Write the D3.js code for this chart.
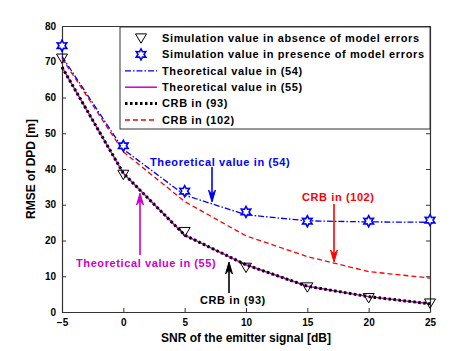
<!DOCTYPE html>
<html>
<head>
<meta charset="utf-8">
<script src="https://cdn.jsdelivr.net/npm/d3@7"></script>
<style>
  body { margin: 0; background: #fff; }
  text { font-family: "Liberation Sans", Arial, sans-serif; font-weight: bold; }
</style>
</head>
<body>
<div id="chart-area"></div>
<script>
// data
let snr = [-5, 0, 5, 10, 15, 20, 25];
let simAbsence = [71, 38.5, 22.5, 12.5, 7, 4, 2.5];
let simPresence = [74.5, 46.5, 33.8, 28, 25.4, 25.4, 25.7];
let theory54 = [71.5, 45.5, 32.7, 27.2, 25.5, 25.2, 25.1];
let theory55 = [68.5, 38.8, 21.5, 13.2, 7.2, 4.3, 2.3];
let crb93 = [68.5, 38.8, 21.5, 13.2, 7.2, 4.3, 2.3];
let crb102 = [71, 44.8, 30.9, 21.3, 15.5, 11.3, 9.5];
let xTicks = [-5, 0, 5, 10, 15, 20, 25];
let yTicks = [0, 10, 20, 30, 40, 50, 60, 70, 80];

let margin = {top: 26, right: 44, bottom: 39, left: 62};
let width = 474 - margin.left - margin.right,
    height = 351 - margin.top - margin.bottom;

let svg = d3.select("#chart-area")
  .append("svg")
    .attr("width", 474)
    .attr("height", 351)
  .append("g")
    .attr("transform", "translate(" + margin.left + "," + margin.top + ")");

// Scales
let x = d3.scaleLinear().domain([-5, 25]).range([0, width]);
let y = d3.scaleLinear().domain([0, 80]).range([height, 0]);

// axes (ticks point inward, box on all sides)
let axisColor = "#333";
function styleAxis(g) {
  g.select(".domain").attr("stroke", axisColor).attr("stroke-width", 1.2);
  g.selectAll(".tick line").attr("stroke", axisColor);
  g.selectAll(".tick text").attr("fill", "#000").style("font-size", "10px");
}
svg.append("g")
  .attr("transform", "translate(0," + height + ")")
  .call(d3.axisBottom(x).tickValues(xTicks).tickSizeInner(-4).tickSizeOuter(0).tickPadding(7))
  .call(styleAxis);
svg.append("g")
  .call(d3.axisLeft(y).tickValues(yTicks).tickSizeInner(-4).tickSizeOuter(0).tickPadding(6))
  .call(styleAxis);
svg.append("g")
  .call(d3.axisTop(x).tickValues(xTicks).tickSizeInner(-4).tickSizeOuter(0).tickFormat(""))
  .call(styleAxis);
svg.append("g")
  .attr("transform", "translate(" + width + ",0)")
  .call(d3.axisRight(y).tickValues(yTicks).tickSizeInner(-4).tickSizeOuter(0).tickFormat(""))
  .call(styleAxis);

// axis titles
svg.append("text")
  .attr("x", width / 2)
  .attr("y", height + 30)
  .attr("text-anchor", "middle")
  .style("font-size", "12px")
  .text("SNR of the emitter signal [dB]");
svg.append("text")
  .attr("transform", "translate(" + (-27) + "," + (height / 2) + ") rotate(-90)")
  .attr("text-anchor", "middle")
  .style("font-size", "12px")
  .text("RMSE of DPD [m]");

let line = d3.line().x((d, i) => x(snr[i])).y(d => y(d));

// curves
let curves = [
  {values: crb102, color: "#ff0000", dash: "5,3", w: 1.3},
  {values: theory54, color: "#0000ff", dash: "6,2,1.5,2", w: 1.3},
  {values: theory55, color: "#cc00cc", dash: null, w: 1.5},
  {values: crb93, color: "#000", dash: "2.5,2.5", w: 3}
];
svg.selectAll(".curve")
  .data(curves)
  .enter().append("path")
    .attr("class", "curve")
    .attr("d", d => line(d.values))
    .attr("fill", "none")
    .attr("stroke", d => d.color)
    .attr("stroke-width", d => d.w)
    .attr("stroke-dasharray", d => d.dash);

// marker shapes
function triPath(s) {
  return "M" + (-s) + "," + (-s * 0.75) + "L" + s + "," + (-s * 0.75) + "L0," + (s * 0.95) + "Z";
}
function hexPath(r) {
  let p = [];
  for (let k = 0; k < 12; k++) {
    let a = Math.PI / 6 * k - Math.PI / 2;
    let rr = k % 2 === 0 ? r : r * 0.55;
    p.push([rr * Math.cos(a), rr * Math.sin(a)]);
  }
  return "M" + p.map(q => q.join(",")).join("L") + "Z";
}

svg.selectAll(".tri")
  .data(simAbsence)
  .enter().append("path")
    .attr("class", "tri")
    .attr("transform", (d, i) => "translate(" + x(snr[i]) + "," + y(d) + ")")
    .attr("d", triPath(5.5))
    .attr("fill", "none")
    .attr("stroke", "#000")
    .attr("stroke-width", 1);

svg.selectAll(".star")
  .data(simPresence)
  .enter().append("path")
    .attr("class", "star")
    .attr("transform", (d, i) => "translate(" + x(snr[i]) + "," + y(d) + ")")
    .attr("d", hexPath(5.5))
    .attr("fill", "#ffffff")
    .attr("stroke", "#0000ff")
    .attr("stroke-width", 1.6);

// legend
let legendItems = [
  {label: "Simulation value in absence of model errors", marker: "tri"},
  {label: "Simulation value in presence of model errors", marker: "star"},
  {label: "Theoretical value in (54)", c: curves[1]},
  {label: "Theoretical value in (55)", c: curves[2]},
  {label: "CRB in (93)", c: curves[3]},
  {label: "CRB in (102)", c: curves[0]}
];
let lx = 120 - margin.left, ly = 1;
let legend = svg.append("g").attr("transform", "translate(" + lx + "," + ly + ")");
legend.append("rect")
  .attr("width", width - lx)
  .attr("height", 102)
  .attr("fill", "#fff")
  .attr("stroke", axisColor)
  .attr("stroke-width", 1);
let rows = legend.selectAll(".row")
  .data(legendItems)
  .enter().append("g")
    .attr("class", "row")
    .attr("transform", (d, i) => "translate(0," + (11 + i * 16.4) + ")");
rows.append("text")
  .attr("x", 42)
  .attr("dy", "0.35em")
  .style("font-size", "11px")
  .style("letter-spacing", "0.62px")
  .text(d => d.label);
rows.filter(d => d.c).append("line")
  .attr("x1", 5).attr("x2", 37)
  .attr("stroke", d => d.c.color)
  .attr("stroke-width", d => d.c.w)
  .attr("stroke-dasharray", d => d.c.dash);
rows.filter(d => d.marker === "tri").append("path")
  .attr("transform", "translate(21,0)")
  .attr("d", triPath(5.5))
  .attr("fill", "none").attr("stroke", "#000");
rows.filter(d => d.marker === "star").append("path")
  .attr("transform", "translate(21,0)")
  .attr("d", hexPath(5.5))
  .attr("fill", "#fff").attr("stroke", "#0000ff").attr("stroke-width", 1.6);

// annotations with arrows (pixel positions relative to the plot area)
let notes = [
  {text: "Theoretical value in (54)", color: "#0000ff", tx: 150, ty: 162, x1: 212, y1: 167, x2: 212, y2: 202},
  {text: "CRB in (102)", color: "#ff0000", tx: 302, ty: 197, x1: 334, y1: 204, x2: 334, y2: 262},
  {text: "Theoretical value in (55)", color: "#cc00cc", tx: 76, ty: 263, x1: 140, y1: 255, x2: 140, y2: 193},
  {text: "CRB in (93)", color: "#000", tx: 200, ty: 300, x1: 229, y1: 293, x2: 229, y2: 262}
];
let ng = svg.append("g").attr("transform", "translate(" + (-margin.left) + "," + (-margin.top) + ")");
notes.forEach(n => {
  ng.append("text")
    .attr("x", n.tx).attr("y", n.ty).attr("dy", "0.35em")
    .attr("fill", n.color)
    .style("font-size", "11px")
    .style("letter-spacing", "0.6px")
    .text(n.text);
  let dir = n.y2 > n.y1 ? 1 : -1;
  ng.append("line")
    .attr("x1", n.x1).attr("y1", n.y1)
    .attr("x2", n.x2).attr("y2", n.y2 - dir * 6)
    .attr("stroke", n.color).attr("stroke-width", 1.6);
  ng.append("path")
    .attr("d", "M" + (n.x2 - 3.5) + "," + (n.y2 - dir * 12) + "L" + n.x2 + "," + n.y2 + "L" + (n.x2 + 3.5) + "," + (n.y2 - dir * 12) + "L" + n.x2 + "," + (n.y2 - dir * 8) + "Z")
    .attr("fill", n.color).attr("stroke", n.color).attr("stroke-width", 1);
});
</script>
</body>
</html>
